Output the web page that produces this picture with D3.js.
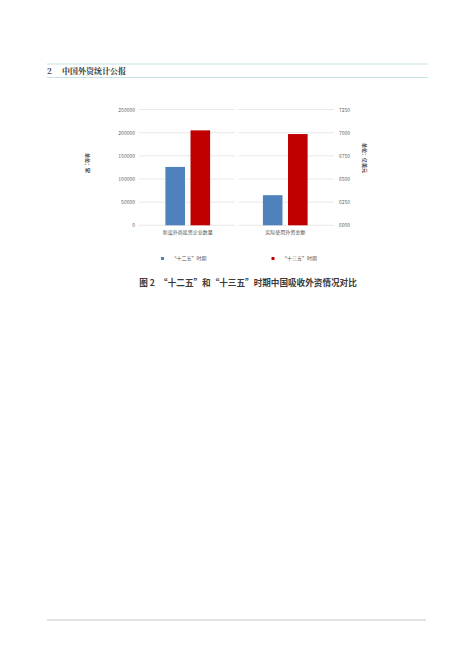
<!DOCTYPE html>
<html>
<head>
<meta charset="utf-8">
<script src="https://cdn.jsdelivr.net/npm/d3@7"></script>
<style>
  body { margin: 0; background: #fff; }
  svg { display: block; }
</style>
</head>
<body>
<svg id="page" width="474" height="670"></svg>
<script>
// chart data
const categories = ['新设外商投资企业数量', '实际使用外资金额'];
const series = ['“十二五”时期', '“十三五”时期'];
const countValues = [126000, 205000];   // 单位：家 (left axis)
const amountValues = [6325, 6985];      // 单位：亿美元 (right axis)
const leftTicks = [0, 50000, 100000, 150000, 200000, 250000];
const rightTicks = [6000, 6250, 6500, 6750, 7000, 7250];
const colors = ['#4f81bd', '#c00000'];

const svg = d3.select('#page');
const cjk = '"Noto Sans CJK SC", sans-serif';
const serif = '"Noto Serif CJK SC", "Noto Sans CJK SC", serif';

// page header
svg.append('line').attr('x1', 47).attr('x2', 428).attr('y1', 64).attr('y2', 64)
  .attr('stroke', '#b9dbe0').attr('stroke-width', 0.8);
svg.append('line').attr('x1', 47).attr('x2', 428).attr('y1', 77.5).attr('y2', 77.5)
  .attr('stroke', '#b9dbe0').attr('stroke-width', 0.8);
svg.append('text').attr('x', 47).attr('y', 74)
  .style('font-family', serif).style('font-size', '8px').style('font-weight', 'bold').attr('fill', '#333')
  .text('2');
svg.append('text').attr('x', 62).attr('y', 74)
  .style('font-family', serif).style('font-size', '8px').style('font-weight', 'bold').attr('fill', '#333')
  .text('中国外资统计公报');

// footer line
svg.append('line').attr('x1', 47).attr('x2', 426).attr('y1', 620).attr('y2', 620)
  .attr('stroke', '#c8c8c8').attr('stroke-width', 1);

// plot area
const plot = { left: 139, right: 334, top: 109.5, bottom: 225.3 };

const x = d3.scaleBand().domain(categories).range([plot.left, plot.right]).padding(0);
const inner = d3.scaleBand().domain(series).range([0, x.bandwidth()]).paddingInner(0.22).paddingOuter(1.05);

const yLeft = d3.scaleLinear().domain([0, 250000]).range([plot.bottom, plot.top]);
const yRight = d3.scaleLinear().domain([6000, 7250]).range([plot.bottom, plot.top]);

// gridlines, one block per category
categories.forEach((c, i) => {
  svg.append('g').selectAll('line').data(leftTicks).join('line')
    .attr('x1', x(c) + (i === 0 ? 0 : 2))
    .attr('x2', x(c) + x.bandwidth() - (i === 0 ? 1.5 : 0))
    .attr('y1', d => yLeft(d)).attr('y2', d => yLeft(d))
    .attr('stroke', '#e3e3e3').attr('stroke-width', 0.8);
});

// left axis
const axL = svg.append('g').attr('transform', `translate(${plot.left},0)`)
  .call(d3.axisLeft(yLeft).tickValues(leftTicks).tickSize(0).tickPadding(4).tickFormat(d3.format('d')));
axL.select('.domain').remove();
axL.selectAll('text').style('font-family', cjk).style('font-size', '5px').attr('fill', '#666');

// right axis
const axR = svg.append('g').attr('transform', `translate(${plot.right},0)`)
  .call(d3.axisRight(yRight).tickValues(rightTicks).tickSize(0).tickPadding(5).tickFormat(d3.format('d')));
axR.select('.domain').remove();
axR.selectAll('text').style('font-family', cjk).style('font-size', '5px').attr('fill', '#666');

// axis titles
svg.append('text').attr('transform', 'translate(86,163) rotate(90)')
  .attr('text-anchor', 'middle').style('font-family', cjk).style('font-size', '5px')
  .style('font-weight', 'bold').attr('fill', '#444').text('单位：家');
svg.append('text').attr('transform', 'translate(363,158) rotate(90)')
  .attr('text-anchor', 'middle').style('font-family', cjk).style('font-size', '5px')
  .style('font-weight', 'bold').attr('fill', '#444').text('单位：亿美元');

// bars
const barData = [];
series.forEach((s, si) => {
  barData.push({ cat: categories[0], s, si, y: yLeft(countValues[si]), base: yLeft(0) });
  barData.push({ cat: categories[1], s, si, y: yRight(amountValues[si]), base: yRight(6000) });
});
svg.append('g').selectAll('rect').data(barData).join('rect')
  .attr('x', d => x(d.cat) + inner(d.s))
  .attr('width', inner.bandwidth())
  .attr('y', d => d.y)
  .attr('height', d => d.base - d.y)
  .attr('fill', d => colors[d.si]);

// category labels
svg.append('g').selectAll('text').data(categories).join('text')
  .attr('x', d => x(d) + x.bandwidth() / 2)
  .attr('y', 234)
  .attr('text-anchor', 'middle')
  .style('font-family', cjk).style('font-size', '5px').attr('fill', '#555')
  .text(d => d);

// legend
const legendX = [162.5, 273];
const lg = svg.append('g').selectAll('g').data(series).join('g')
  .attr('transform', (d, i) => `translate(${legendX[i]},258.5)`);
lg.append('rect').attr('x', -1.5).attr('y', -1.5).attr('width', 3).attr('height', 3)
  .attr('fill', (d, i) => colors[i]);
lg.append('text').attr('x', 9).attr('y', 1.8)
  .style('font-family', cjk).style('font-size', '5px').attr('fill', '#555')
  .text(d => d);

// caption
svg.append('text').attr('x', 248).attr('y', 285.5).attr('text-anchor', 'middle')
  .style('font-family', cjk).style('font-size', '8.6px').style('font-weight', 'bold').attr('fill', '#3a3a3a')
  .text('图 2　“十二五”和“十三五”时期中国吸收外资情况对比');
</script>
</body>
</html>
